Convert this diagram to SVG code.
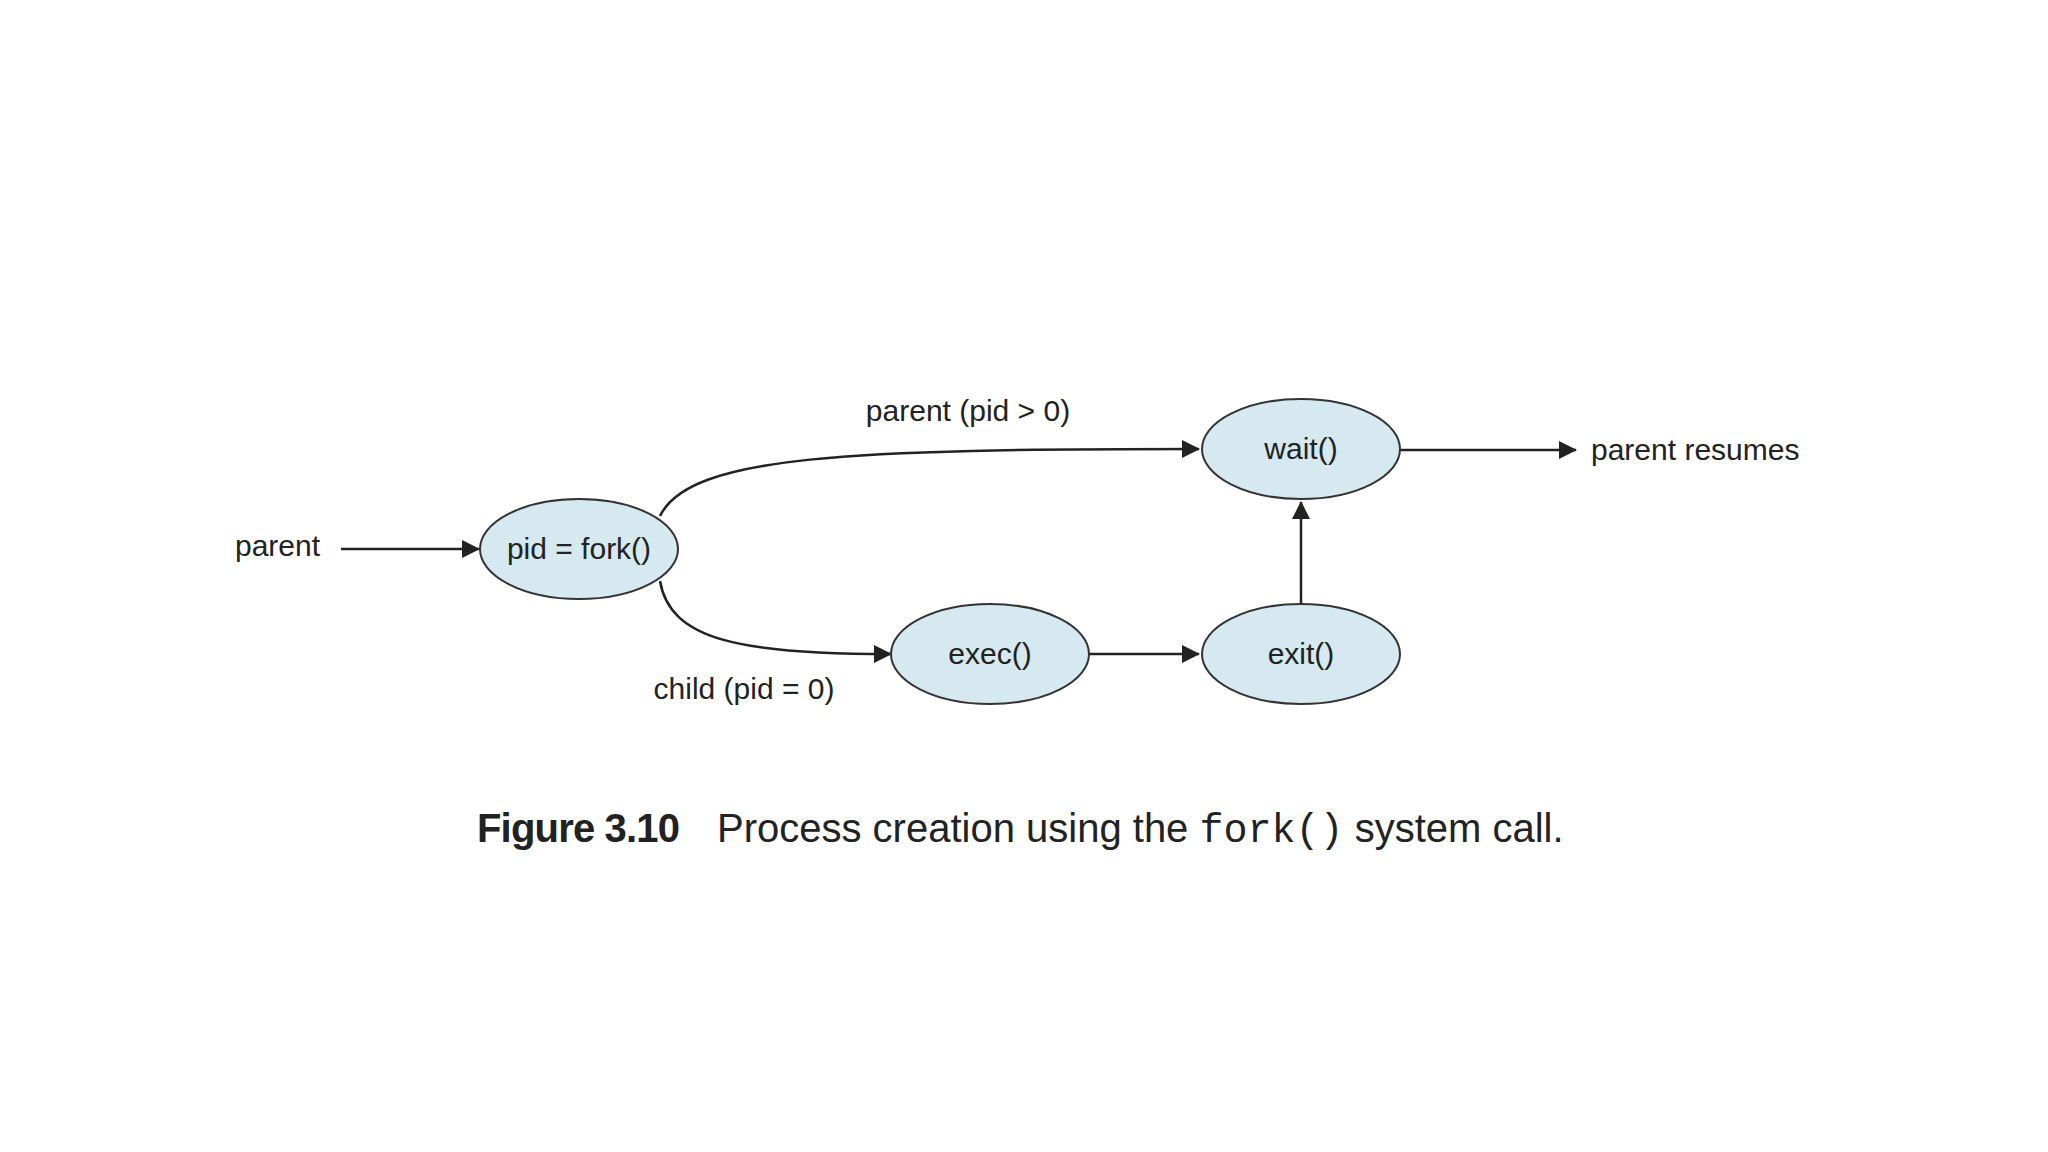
<svg xmlns="http://www.w3.org/2000/svg" width="2048" height="1152" viewBox="0 0 2048 1152">
<style>
.n{fill:#d6e9f0;stroke:#333;stroke-width:2}
.t{font-family:"Liberation Sans",Arial,sans-serif;font-size:30px;fill:#222}
.c{fill:none;stroke:#222;stroke-width:2.5}
</style>
<defs><marker id="a" markerWidth="10" markerHeight="10" refX="9" refY="5" orient="auto" markerUnits="userSpaceOnUse" viewBox="0 0 10 10"><path d="M0,0L10,5L0,10z" fill="#222"/></marker>
<marker id="b" markerWidth="18" markerHeight="18" refX="17" refY="9" orient="auto" markerUnits="userSpaceOnUse" viewBox="0 0 18 18"><path d="M0,0L18,9L0,18z" fill="#222"/></marker></defs>
<rect width="2048" height="1152" fill="#fff"/>
<g id="connectors">
<path class="c" d="M341,549H479" marker-end="url(#b)"/>
<path class="c" d="M660,516C690,455 850,449 1199,449" marker-end="url(#b)"/>
<path class="c" d="M660,581C670,640 740,654 891,654" marker-end="url(#b)"/>
<path class="c" d="M1089,654H1199" marker-end="url(#b)"/>
<path class="c" d="M1301,606V502" stroke-width="2" marker-end="url(#b)"/>
<path class="c" d="M1400,450H1576" marker-end="url(#b)"/>
</g>
<g id="parent"><text class="t" x="235" y="556">parent</text></g>
<g id="fork"><ellipse class="n" cx="579" cy="549" rx="99" ry="50"/><text class="t" x="579" y="559" text-anchor="middle">pid = fork()</text></g>
<g id="wait"><ellipse class="n" cx="1301" cy="449" rx="99" ry="50"/><text class="t" x="1301" y="459" text-anchor="middle">wait()</text></g>
<g id="exec"><ellipse class="n" cx="990" cy="654" rx="99" ry="50"/><text class="t" x="990" y="664" text-anchor="middle">exec()</text></g>
<g id="exit"><ellipse class="n" cx="1301" cy="654" rx="99" ry="50"/><text class="t" x="1301" y="664" text-anchor="middle">exit()</text></g>
<g id="resumes"><text class="t" x="1591" y="460">parent resumes</text></g>
<text class="t" x="968" y="421" text-anchor="middle">parent (pid &gt; 0)</text>
<text class="t" x="744" y="699" text-anchor="middle">child (pid = 0)</text>
<text x="477" y="842" style="font-family:'Liberation Sans',Arial,sans-serif;font-size:40px;fill:#222"><tspan font-weight="bold" textLength="203">Figure 3.10</tspan><tspan x="717">Process creation using the </tspan><tspan font-family="'Liberation Mono',monospace">fork()</tspan><tspan> system call.</tspan></text>
</svg>
